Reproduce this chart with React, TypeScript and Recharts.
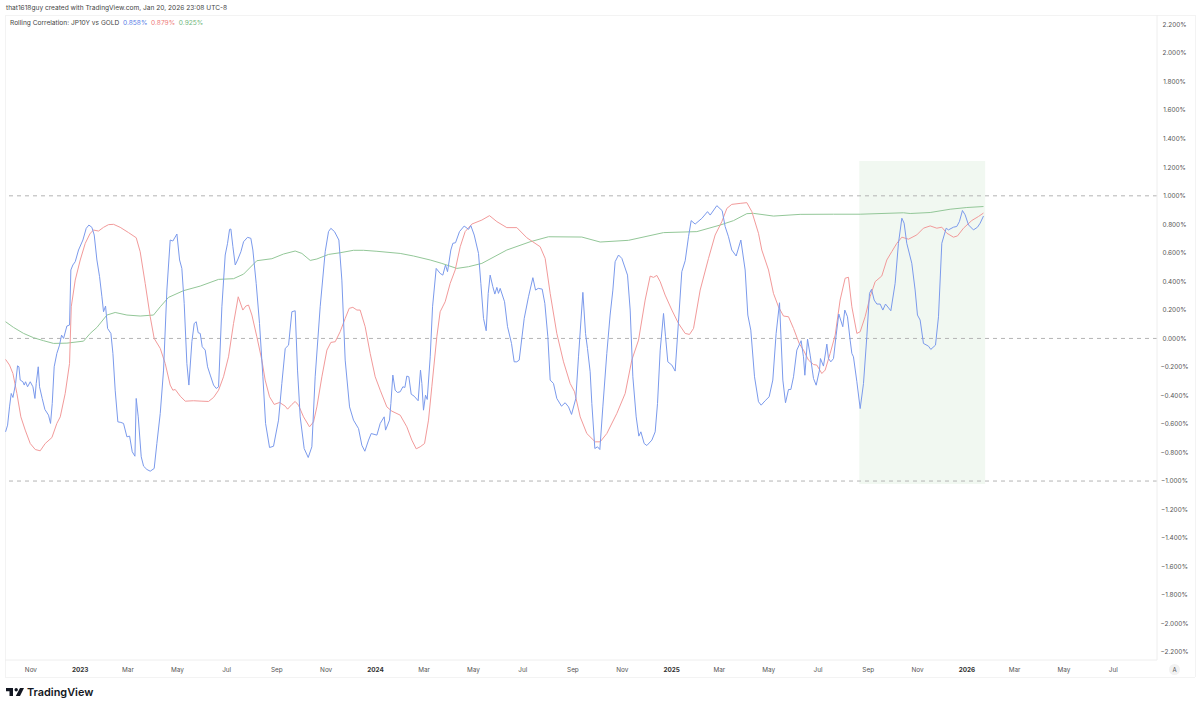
import { ComposedChart, Line, ReferenceArea, ReferenceLine, XAxis, YAxis } from "recharts"

// x values are calendar days counted from 2023-01-01
const tickDays = [-61, 0, 59, 120, 181, 243, 304, 365, 425, 486, 547, 609, 670, 731, 790, 851, 912, 974, 1035, 1096, 1155, 1216, 1277]
const tickLabels = ["Nov", "2023", "Mar", "May", "Jul", "Sep", "Nov", "2024", "Mar", "May", "Jul", "Sep", "Nov", "2025", "Mar", "May", "Jul", "Sep", "Nov", "2026", "Mar", "May", "Jul"]
const yearLabels = ["2023", "2024", "2025", "2026"]
const priceTicks = [2.2, 2, 1.8, 1.6, 1.4, 1.2, 1, 0.8, 0.6, 0.4, 0.2, 0, -0.2, -0.4, -0.6, -0.8, -1, -1.2, -1.4, -1.6, -1.8, -2, -2.2]
const dashedLevels = [1, 0, -1]

const blueCorr: [number, number][] = [
  [-92.3, -0.655], [-89.8, -0.608], [-87.4, -0.48], [-85.3, -0.386], [-83.2, -0.414], [-79.9, -0.316], [-77.5, -0.192], [-75.8, -0.199], [-74.2, -0.292], [-70.9, -0.304], [-69.2, -0.327], [-67.6, -0.304], [-65.1, -0.339], [-61.8, -0.304], [-58.5, -0.339], [-56, -0.421], [-54.4, -0.316], [-51.9, -0.199], [-50.3, -0.339], [-47, -0.421], [-43.7, -0.498], [-39.2, -0.538], [-36.7, -0.596], [-34.6, -0.456], [-32.2, -0.199], [-28.9, -0.105], [-25.6, -0.047], [-23.1, 0.023], [-20.6, 0], [-16.5, 0.087], [-13.2, 0.094], [-11.6, 0.48], [-9.1, 0.515], [-6.2, 0.538], [-2.1, 0.62], [3.3, 0.69], [7.4, 0.772], [10.7, 0.795], [14.4, 0.779], [17.3, 0.725], [20.6, 0.55], [23.9, 0.433], [26.8, 0.292], [28.8, 0.187], [31.3, 0.227], [33.8, 0.07], [37.9, 0.035], [40.4, -0.105], [43.2, -0.363], [46.5, -0.585], [50.2, -0.589], [53.5, -0.596], [57.7, -0.69], [61, -0.685], [64.3, -0.795], [67.6, -0.826], [69.2, -0.421], [71.7, -0.55], [75.4, -0.83], [78.3, -0.896], [82.4, -0.919], [86.5, -0.931], [91.4, -0.912], [94.7, -0.737], [98.9, -0.526], [103, -0.222], [107.1, 0.339], [111.2, 0.69], [114.5, 0.683], [119.5, 0.732], [122.8, 0.55], [125.6, 0.491], [128.5, 0.246], [131.8, -0.175], [134.3, -0.327], [138, -0.023], [140.9, 0.105], [143.4, 0.117], [145.8, 0.04], [148.3, 0.035], [150.8, -0.058], [154.5, -0.082], [157.4, -0.199], [160.7, -0.257], [164.8, -0.327], [168.1, -0.351], [171, -0.339], [175.1, 0.222], [179.2, 0.585], [182.1, 0.667], [184.6, 0.765], [186.2, 0.767], [188.7, 0.643], [191.6, 0.515], [194.5, 0.55], [198.6, 0.608], [201.9, 0.678], [206.8, 0.709], [210.9, 0.702], [213.4, 0.62], [217.5, 0.386], [221.6, 0.105], [225.8, -0.269], [229.1, -0.596], [234, -0.765], [238.9, -0.756], [245.1, -0.573], [249.2, -0.316], [253.4, -0.07], [257.5, -0.047], [261.6, 0.187], [265.7, 0.194], [268.6, -0.222], [271.9, -0.55], [276.8, -0.772], [281.8, -0.835], [286.3, -0.76], [290.4, -0.269], [296.6, 0.222], [302.8, 0.608], [306.9, 0.749], [309.8, 0.772], [314.3, 0.749], [319.7, 0.69], [323.4, 0.409], [327.5, -0.152], [332.9, -0.48], [337.8, -0.573], [344, -0.632], [348.1, -0.749], [351.8, -0.791], [356.4, -0.713], [359.7, -0.667], [366.7, -0.678], [370.8, -0.596], [375.7, -0.55], [377.4, -0.643], [382.3, -0.573], [384, -0.456], [386.4, -0.257], [389.3, -0.363], [392.2, -0.379],
  [395.5, -0.374], [398.8, -0.339], [401.3, -0.344], [403.7, -0.264], [406.2, -0.269], [409.1, -0.391], [412.8, -0.405], [417.7, -0.437], [420.6, -0.222], [422.3, -0.316], [424.3, -0.503], [426.8, -0.398], [428.9, -0.428], [432.6, -0.129], [435.5, 0.222], [440, 0.491], [444.9, 0.456], [448.2, 0.444], [451.5, 0.515], [454, 0.468], [458.1, 0.62], [460.6, 0.667], [463.9, 0.671], [468.8, 0.749], [474.6, 0.788], [480, 0.765], [482.8, 0.791], [487, 0.725], [492.3, 0.596], [495.2, 0.386], [498.5, 0.14], [501.8, 0.054], [504.3, 0.316], [506.7, 0.444], [510, 0.363], [512.5, 0.311], [515, 0.358], [517, 0.316], [519.1, 0.351], [524.5, 0.257], [528.2, 0.082], [533.1, -0.035], [536.4, -0.164], [539.7, -0.164], [542.6, -0.152], [548.8, 0.14], [554.1, 0.292], [559.5, 0.426], [562.8, 0.339], [566.1, 0.351], [571, 0.346], [574.3, 0.246], [578, 0.012], [580.9, -0.292], [585, -0.316], [589.1, -0.421], [594.9, -0.475], [599.4, -0.451], [603.6, -0.48], [607.3, -0.533], [612.6, -0.421], [615.9, -0.129], [621.3, 0.323], [624.6, 0.035], [627, -0.07], [630.3, -0.234], [632.4, -0.456], [636.1, -0.772], [639.4, -0.76], [642.3, -0.779], [646, -0.48], [650.9, -0.105], [655, 0.164], [658.4, 0.339], [661.2, 0.538], [665.4, 0.585], [669.5, 0.561], [676.5, 0.444], [679.8, 0.199], [683.1, -0.269], [687.2, -0.55], [690.5, -0.685], [693, -0.655], [697.1, -0.737], [700.4, -0.751], [706.6, -0.713], [710.7, -0.655], [713.6, -0.456], [716.9, -0.082], [721, 0.175], [723.5, 0.012], [726.3, -0.164], [731.3, -0.187], [735.4, -0.229], [739.5, 0.117], [743.6, 0.468], [747.8, 0.545], [751.9, 0.713], [755.2, 0.826], [760.1, 0.802], [768.4, 0.842], [775.4, 0.889], [778.7, 0.865], [786.9, 0.931], [793.5, 0.896], [797.2, 0.784], [801.3, 0.713], [805.4, 0.62], [810.8, 0.578], [816.6, 0.69], [821.9, 0.48], [825.2, 0.164], [828.9, 0.058], [833.5, -0.269], [838.4, -0.444], [841.7, -0.468], [846.6, -0.437], [851.6, -0.409], [856.1, -0.292], [860.2, 0.035], [864.4, 0.25], [868.5, -0.292], [871.8, -0.451], [875.5, -0.358], [878.4, -0.358], [881.7, -0.269], [885.8, -0.082],
  [891.1, -0.016], [894, -0.129], [895.7, -0.258], [899, -0.005], [902.3, -0.117], [906.4, -0.281], [909.7, -0.328], [913.8, -0.222], [915, -0.141], [918.7, -0.194], [922.9, -0.04], [924.9, -0.141], [927.8, -0.164], [931.1, -0.141], [934.4, 0.023], [937.7, 0.171], [942.6, 0.082], [945.1, 0.199], [948.4, 0.152], [951.7, -0.012], [953.8, -0.105], [955.8, -0.129], [960, -0.304], [964.1, -0.492], [968.2, -0.316], [972.3, 0.012], [975.6, 0.316], [978.1, 0.344], [981.4, 0.269], [984.7, 0.241], [988.8, 0.241], [992.1, 0.199], [995.4, 0.241], [1002, 0.194], [1007.3, 0.386], [1011.4, 0.667], [1015.6, 0.843], [1018.4, 0.808], [1021.7, 0.667], [1027.9, 0.527], [1032, 0.34], [1034.9, 0.164], [1038.2, 0.129], [1042.3, -0.035], [1048.5, -0.054], [1051.4, -0.077], [1057.2, -0.047], [1060.9, 0.152], [1065, 0.667], [1070.4, 0.773], [1073.2, 0.761], [1079.4, 0.78], [1083.5, 0.785], [1086.8, 0.82], [1090.5, 0.897], [1093.8, 0.867], [1098, 0.796], [1104.1, 0.761], [1109.1, 0.78], [1112.4, 0.808], [1116.5, 0.858],
]

const redCorr: [number, number][] = [
  [-92.3, -0.147], [-87.4, -0.187], [-83.2, -0.246], [-78.3, -0.386], [-73.4, -0.55], [-68, -0.643], [-61.8, -0.737], [-55.6, -0.779], [-49.5, -0.788], [-43.3, -0.737], [-35, -0.695], [-28.9, -0.596], [-24.7, -0.55], [-18.6, -0.386], [-13.2, -0.175], [-11.1, 0.222], [-6.2, 0.409], [0, 0.55], [6.2, 0.667], [12.3, 0.737], [16.5, 0.76], [22.6, 0.753], [28.8, 0.779], [35, 0.798], [41.2, 0.8], [49.4, 0.779], [59.7, 0.742], [69.2, 0.706], [74.1, 0.608], [80.3, 0.386], [86.5, 0.152], [91.4, 0], [98.9, -0.07], [105, -0.175], [111.2, -0.327], [114.5, -0.363], [117.4, -0.358], [123.6, -0.405], [129.8, -0.44], [140, -0.437], [150.4, -0.44], [158.6, -0.442], [164.8, -0.414], [171, -0.363], [177.1, -0.269], [183.3, -0.129], [189.5, 0.105], [195.3, 0.292], [201, 0.199], [204.7, 0.227], [208, 0.234], [212.2, 0.164], [218.3, 0.012], [224.5, -0.152], [228.6, -0.292], [234, -0.409], [239.8, -0.463], [246.4, -0.449], [253.4, -0.475], [256.3, -0.496], [261.6, -0.463], [265.7, -0.442], [269.8, -0.468], [276, -0.55], [283.4, -0.62], [288.4, -0.585], [292.5, -0.48], [298.7, -0.269], [304.9, -0.082], [309.8, -0.028], [315.2, -0.023], [321.3, 0.047], [327.5, 0.14], [332.5, 0.211], [337, 0.218], [342, 0.199], [346, 0.199], [352.2, 0.082], [358.4, -0.105], [364.6, -0.269], [370.8, -0.363], [379, -0.48], [385.2, -0.51],
  [395.5, -0.538], [403.7, -0.62], [409.9, -0.713], [415.3, -0.774], [420.2, -0.76], [425.6, -0.737], [430.5, -0.573], [434.6, -0.339], [440.8, 0.012], [444.9, 0.187], [451.1, 0.257], [457.3, 0.386], [463.5, 0.48], [469.7, 0.643], [475.8, 0.749], [484.1, 0.802], [496.4, 0.83], [505.9, 0.861], [515, 0.819], [527.3, 0.777], [539.7, 0.777], [552, 0.706], [568.5, 0.643], [574.7, 0.561], [580.9, 0.316], [589.1, 0.035], [597.4, -0.164], [605.6, -0.316], [611, -0.374], [618, -0.55], [626.2, -0.667], [636.5, -0.725], [642.7, -0.725], [650.9, -0.667], [663.3, -0.526], [673.6, -0.386], [681.8, -0.152], [690.1, -0.012], [698.3, 0.269], [704.5, 0.437], [708.6, 0.428], [712.7, 0.442], [716.9, 0.398], [723, 0.304], [731.3, 0.199], [739.5, 0.105], [747.8, 0.035], [753.1, 0.028], [758.1, 0.07], [766.3, 0.339], [776.6, 0.561], [784.8, 0.725], [793.1, 0.819], [799.3, 0.912], [805.4, 0.94], [815.7, 0.947], [824, 0.952], [830.2, 0.889], [838.4, 0.737], [842.5, 0.62], [850.8, 0.48], [856.9, 0.316], [863.1, 0.222], [869.3, 0.157], [875.5, 0.152], [881.7, 0.07], [888.7, -0.035],
  [894, -0.082], [900.2, -0.152], [906.4, -0.183], [910.5, -0.187], [916.7, -0.246], [920.8, -0.222], [927, -0.105], [933.2, 0.023], [939.3, 0.269], [945.5, 0.422], [949.6, 0.429], [953.8, 0.222], [960, 0.035], [964.1, 0.047], [970.2, 0.152], [976.4, 0.293], [982.6, 0.398], [990.8, 0.438], [997, 0.55], [1003.2, 0.609], [1009.4, 0.667], [1015.6, 0.71], [1023.8, 0.696], [1034.1, 0.726], [1042.3, 0.773], [1050.6, 0.789], [1058.8, 0.773], [1065, 0.78], [1071.2, 0.738], [1079.4, 0.71], [1084.4, 0.719], [1091.8, 0.773], [1102.1, 0.827], [1110.3, 0.855], [1116.5, 0.879],
]

const greenCorr: [number, number][] = [
  [-92.3, 0.117], [-82.4, 0.077], [-70, 0.035], [-57.7, 0.005], [-45.3, -0.016], [-33, -0.035], [-16.5, -0.033], [4.1, -0.019], [12.3, 0.035], [20.6, 0.077], [33, 0.164], [43.2, 0.182], [57.7, 0.164], [74.1, 0.157], [90.6, 0.164], [98.9, 0.222], [109.2, 0.288], [127.7, 0.335], [148.3, 0.367], [171, 0.414], [189.5, 0.419], [201.9, 0.451], [218.3, 0.545], [236.9, 0.559], [251.3, 0.592], [265.7, 0.613], [274, 0.596], [284.3, 0.547], [292.5, 0.557], [306.9, 0.589], [321.3, 0.601], [337.8, 0.618], [350.2, 0.618], [366.7, 0.611],
  [395.5, 0.596], [412, 0.578], [432.6, 0.55], [447, 0.526], [465.5, 0.491], [480, 0.503], [496.4, 0.526], [527.3, 0.62], [556.2, 0.678], [578.8, 0.713], [620, 0.711], [642.7, 0.676], [677.7, 0.688], [721, 0.742], [762.2, 0.749], [791, 0.795], [807.5, 0.826], [824, 0.875], [832.2, 0.877], [857, 0.858], [889.9, 0.87],
  [931.1, 0.871], [964.1, 0.871], [1017.6, 0.881], [1025.9, 0.876], [1050.6, 0.883], [1075.3, 0.906], [1095.9, 0.918], [1116.5, 0.925],
]

const toRows = (pairs: [number, number][]) => pairs.map(([day, value]) => ({ day, value }))

const FONT = "Inter, sans-serif"

function TimeTick({ x, y, payload }: any) {
  const label = tickLabels[tickDays.indexOf(payload.value)]
  const isYear = yearLabels.includes(label)
  return (
    <text x={x} y={y} textAnchor="middle" fontSize={6.4} fontFamily={FONT} fontWeight={isYear ? 700 : 400} fill={isYear ? "#333" : "#555"}>
      {label}
    </text>
  )
}

// price labels sit centred in the scale column, the minus sign widens them both ways
function PriceTick({ x, y, payload }: any) {
  const v: number = payload.value
  return (
    <text x={x} y={y} dy="0.35em" textAnchor="middle" fontSize={6.4} fontFamily={FONT} fill="#555">
      {`${v < 0 ? "\u2212" : ""}${Math.abs(v).toFixed(3)}%`}
    </text>
  )
}

const frame = { position: "absolute", background: "#f3f3f3" } as const

export default function App() {
  return (
    <div style={{ position: "absolute", left: 0, top: 0, width: 1200, height: 709, background: "#fff", fontFamily: FONT, overflow: "hidden" }}>
      <div style={{ ...frame, left: 5, top: 15, width: 1190, height: 1 }} />
      <div style={{ ...frame, left: 5, top: 15, width: 1, height: 662 }} />
      <div style={{ ...frame, left: 1195, top: 15, width: 1, height: 662 }} />
      <div style={{ ...frame, left: 5, top: 677, width: 1190, height: 1 }} />
      <ComposedChart width={1200} height={709} margin={{ top: 15, right: 0, bottom: 0, left: 5 }} style={{ position: "absolute", left: 0, top: 0 }}>
        <XAxis
          type="number"
          dataKey="day"
          domain={[-93, 1331]}
          ticks={tickDays}
          interval={0}
          allowDataOverflow
          tick={<TimeTick />}
          tickLine={false}
          axisLine={{ stroke: "#eeeeee" }}
          height={49}
          tickMargin={6}
        />
        <YAxis
          type="number"
          orientation="right"
          domain={[-2.255, 2.268]}
          ticks={priceTicks}
          interval={0}
          allowDataOverflow
          width={43}
          tickLine={false}
          axisLine={{ stroke: "#eeeeee" }}
          tick={<PriceTick />}
          tickMargin={11.5}
        />
        <ReferenceArea x1={963} x2={1118.6} y1={-1.02} y2={1.245} fill="#f1f8f1" fillOpacity={1} stroke="none" />
        {dashedLevels.map((level) => (
          <ReferenceLine key={level} y={level} stroke="#b4b4b4" strokeDasharray="4 4" />
        ))}
        <Line data={toRows(greenCorr)} dataKey="value" type="linear" stroke="#93c798" strokeWidth={1} dot={false} isAnimationActive={false} />
        <Line data={toRows(redCorr)} dataKey="value" type="linear" stroke="#f29a9a" strokeWidth={1} dot={false} isAnimationActive={false} />
        <Line data={toRows(blueCorr)} dataKey="value" type="linear" stroke="#7b9aec" strokeWidth={1} dot={false} isAnimationActive={false} />
      </ComposedChart>
      <div style={{ position: "absolute", left: 6, top: 4, fontSize: 6.6, lineHeight: "9px", color: "#444", whiteSpace: "nowrap" }}>
        that1618guy created with TradingView.com, Jan 20, 2026 23:08 UTC-8
      </div>
      <div style={{ position: "absolute", left: 10, top: 19, fontSize: 6.6, lineHeight: "9px", color: "#444", whiteSpace: "nowrap" }}>
        Rolling Correlation: JP10Y vs GOLD
        <span style={{ color: "#5b80e6", marginLeft: 3.7 }}>0.858%</span>
        <span style={{ color: "#ee7a7a", marginLeft: 3.7 }}>0.879%</span>
        <span style={{ color: "#70b67c", marginLeft: 3.7 }}>0.925%</span>
      </div>
      <div style={{ position: "absolute", left: 1169, top: 664, width: 11, height: 11, borderRadius: 6, background: "#f2f2f2", color: "#555", fontSize: 6, lineHeight: "11px", textAlign: "center" }}>
        A
      </div>
      <svg width={18} height={10} viewBox="0 0 18 10" style={{ position: "absolute", left: 6, top: 688 }}>
        <path d="M0 0H7V8H3.5V3.2H0Z M14 0H18L14 8H9.8Z" fill="#131722" />
        <circle cx={10.2} cy={1.7} r={1.7} fill="#131722" />
      </svg>
      <div style={{ position: "absolute", left: 27, top: 685, fontSize: 10.9, lineHeight: "15px", fontWeight: 600, color: "#131722", whiteSpace: "nowrap" }}>
        TradingView
      </div>
    </div>
  )
}
